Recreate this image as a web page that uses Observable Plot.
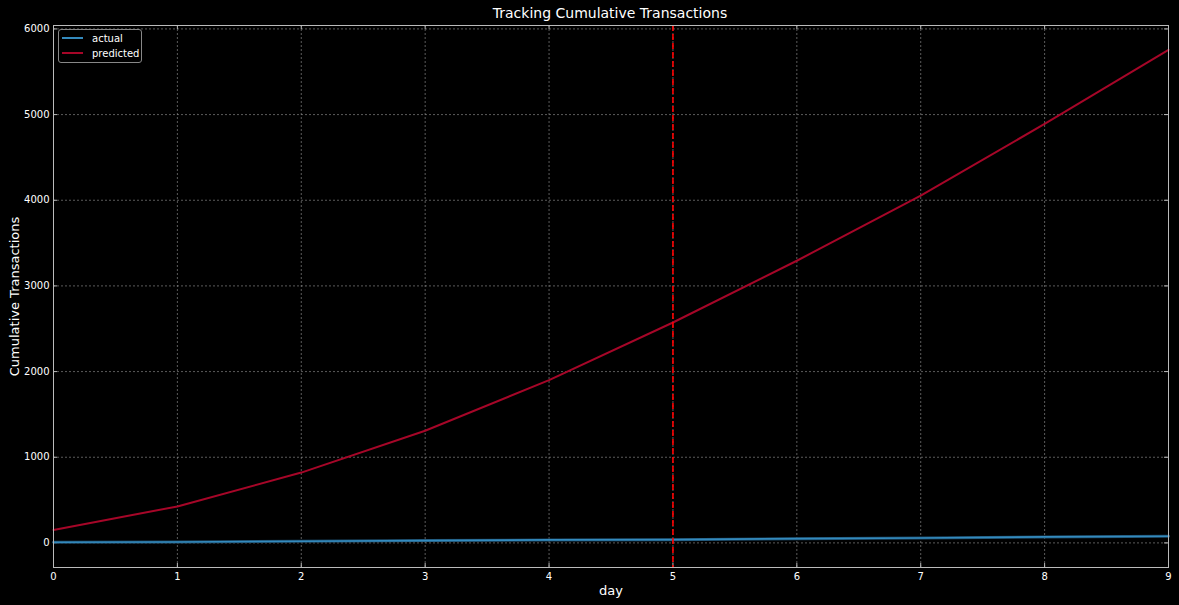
<!DOCTYPE html>
<html>
<head>
<meta charset="utf-8">
<script src="https://cdn.jsdelivr.net/npm/d3@7"></script>
<script src="https://cdn.jsdelivr.net/npm/@observablehq/plot@0.6"></script>
<style>
  html, body { margin: 0; padding: 0; background: #000; }
  #wrap { position: relative; width: 1179px; height: 605px; background: #000; font-family: "DejaVu Sans", sans-serif; }
  #title { height: 20px; width: 1179px; position: relative; color: #fff; font-size: 14px; }
  #title span { position: absolute; left: 610px; top: 5px; transform: translateX(-50%); white-space: nowrap; }
  #legend { position: absolute; left: 58px; top: 29px; width: 82px; height: 32px; border: 1px solid #888; border-radius: 3px; background: #000; color: #fff; font-size: 10px; }
  .item { position: absolute; left: 3px; height: 12px; display: flex; align-items: center; }
  .sw { width: 21px; height: 2px; margin-right: 9px; }
</style>
</head>
<body>
<div id="wrap">
  <div id="title"><span>Tracking Cumulative Transactions</span></div>
  <div id="chart"></div>
  <div id="legend"></div>
</div>
<script>
const days = [0, 1, 2, 3, 4, 5, 6, 7, 8, 9];
const actual = [7, 11, 19, 27, 35, 38, 50, 58, 70, 77];
const predicted = [151, 426, 821, 1309, 1900, 2573, 3294, 4054, 4891, 5756];
const seriesNames = ["actual", "predicted"];
const seriesColors = ["#348ABD", "#A60628"];
const cutoffDay = [5];
const xTicks = [0, 1, 2, 3, 4, 5, 6, 7, 8, 9];
const yTicks = [0, 1000, 2000, 3000, 4000, 5000, 6000];

const actualData = days.map((d, i) => ({day: d, value: actual[i]}));
const predictedData = days.map((d, i) => ({day: d, value: predicted[i]}));

const W = 1179, H = 585, ML = 53, MR = 11, MT = 5, MB = 38;
const innerW = W - ML - MR, innerH = H - MT - MB;

const chart = Plot.plot({
  width: W,
  height: H,
  marginLeft: ML,
  marginRight: MR,
  marginTop: MT,
  marginBottom: MB,
  style: {background: "#000", color: "#fff", fontFamily: "DejaVu Sans, sans-serif", fontSize: "10px", overflow: "visible"},
  x: {domain: [0, 9]},
  y: {domain: [-287, 6040]},
  marks: [
    Plot.gridX(xTicks, {stroke: "#999", strokeOpacity: 1, strokeWidth: 0.6, strokeDasharray: "2,2"}),
    Plot.gridY(yTicks, {stroke: "#999", strokeOpacity: 1, strokeWidth: 0.6, strokeDasharray: "2,2"}),
    Plot.axisX(xTicks, {tickSize: 0, tickPadding: 5, tickFormat: d => String(d), fontSize: 10, fill: "#fff",
      label: "day", labelAnchor: "center", labelOffset: 27, labelArrow: false}),
    Plot.axisY(yTicks, {tickSize: 0, tickPadding: 4, tickFormat: d => String(d), fontSize: 10, fill: "#fff",
      label: "Cumulative Transactions", labelAnchor: "center", labelOffset: 44, labelArrow: false}),
    // inward tick marks on all four sides
    Plot.tickY(yTicks, {y: d => d, stroke: "#bbb", insetRight: innerW - 4}),
    Plot.tickY(yTicks, {y: d => d, stroke: "#bbb", insetLeft: innerW - 4}),
    Plot.tickX(xTicks, {x: d => d, stroke: "#bbb", insetTop: innerH - 4}),
    Plot.tickX(xTicks, {x: d => d, stroke: "#bbb", insetBottom: innerH - 4}),
    Plot.line(actualData, {x: "day", y: "value", stroke: "#1c4a68", strokeWidth: 3}),
    Plot.line(actualData, {x: "day", y: "value", stroke: seriesColors[0], strokeWidth: 1.6}),
    Plot.line(predictedData, {x: "day", y: "value", stroke: seriesColors[1], strokeWidth: 2}),
    Plot.ruleX(cutoffDay, {stroke: "red", strokeWidth: 1.6, strokeDasharray: "6,3"}),
    Plot.frame({stroke: "#bbb", strokeWidth: 1})
  ]
});
document.getElementById("chart").appendChild(chart);

chart.querySelectorAll("g[aria-label='x-axis label'] text, g[aria-label='y-axis label'] text").forEach(t => {
  t.setAttribute("font-size", "13");
});

const legend = document.getElementById("legend");
seriesNames.forEach((name, i) => {
  const it = document.createElement("div");
  it.className = "item";
  it.style.top = (2 + i * 15) + "px";
  const sw = document.createElement("div");
  sw.className = "sw";
  sw.style.background = seriesColors[i];
  it.appendChild(sw);
  const tx = document.createElement("span");
  tx.textContent = name;
  it.appendChild(tx);
  legend.appendChild(it);
});
</script>
</body>
</html>
